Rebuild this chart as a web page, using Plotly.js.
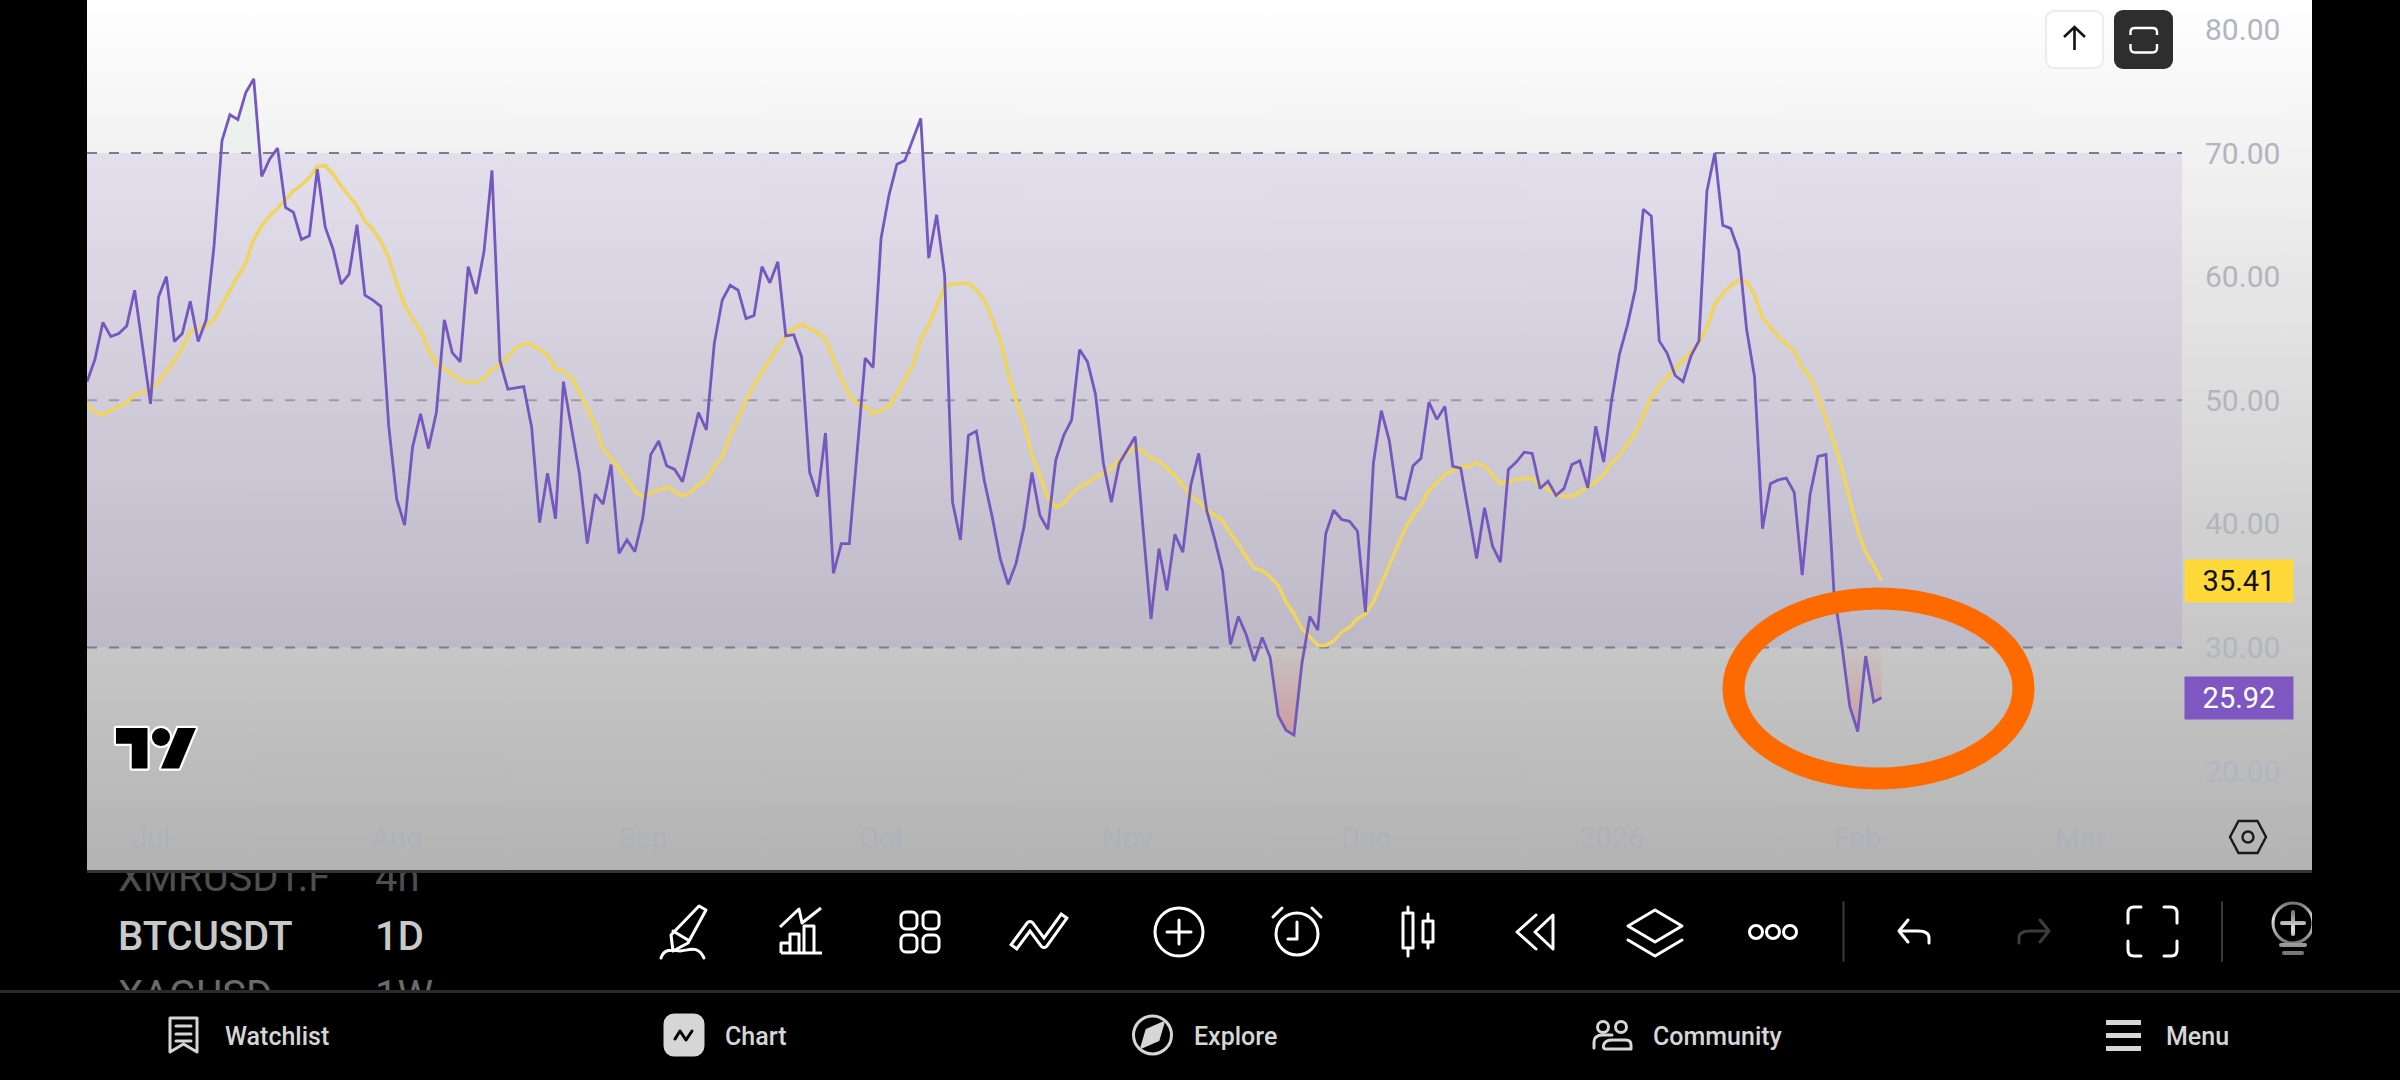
<!DOCTYPE html>
<html><head><meta charset="utf-8">
<script src="https://cdn.plot.ly/plotly-3.0.1.min.js"></script>
<style>
html,body{margin:0;padding:0;background:#000;width:2400px;height:1080px;overflow:hidden}
#bg{position:absolute;left:87px;top:0;width:2225px;height:870px;background:linear-gradient(180deg,#ffffff 0%,#b3b3b3 100%)}
#chart{position:absolute;left:0;top:0;width:2400px;height:1080px}
#chrome{position:absolute;left:0;top:0;pointer-events:none}
</style></head><body>
<div id="bg"></div>
<div id="chart"></div>
<svg id="chrome" width="2400" height="1080" viewBox="0 0 2400 1080" xmlns="http://www.w3.org/2000/svg" font-family="Roboto, sans-serif">
<defs>
<clipPath id="listClip"><rect x="100" y="873" width="400" height="117"/></clipPath>
<clipPath id="bulbClip"><rect x="2260" y="890" width="52" height="80"/></clipPath>
<linearGradient id="bulbGrad" x1="0" y1="0" x2="0" y2="1"><stop offset="0" stop-color="#777"/><stop offset="0.4" stop-color="#ddd"/><stop offset="1" stop-color="#777"/></linearGradient>
</defs>
<rect x="87" y="870" width="2225" height="3" fill="#333"/>
<rect x="0" y="990" width="2400" height="3" fill="#2a2a2a"/>
<!-- top right buttons -->
<rect x="2046" y="11" width="57" height="57" rx="8" fill="#fff" stroke="#ececec" stroke-width="2"/>
<path d="M2074.5 50V27M2064 37L2074.5 27L2085 37" fill="none" stroke="#131313" stroke-width="2.6"/>
<rect x="2114" y="10" width="59" height="59" rx="9" fill="#2e2e2e"/>
<path d="M2130.5 35V32Q2130.5 28 2135 28H2152.5Q2157 28 2157 32V35M2130.5 44V48Q2130.5 52.5 2135 52.5H2152.5Q2157 52.5 2157 48V44" fill="none" stroke="#fff" stroke-width="2.4"/>
<!-- logo -->
<g transform="translate(116,719) scale(2.25)">
<g stroke="#fff" stroke-width="2" stroke-linejoin="round" fill="#fff">
<path d="M14 22H7V11H0V4h14v18zM28 22h-8l7.5-18h8L28 22z"/><circle cx="20" cy="8" r="4"/></g>
<path d="M14 22H7V11H0V4h14v18zM28 22h-8l7.5-18h8L28 22z" fill="#000"/><circle cx="20" cy="8" r="4" fill="#000"/>
</g>
<!-- settings hexagon -->
<path d="M2238.5 821H2257.5L2266 837L2257.5 853H2238.5L2230 837Z" fill="none" stroke="#1a1a1a" stroke-width="2.4"/>
<circle cx="2248" cy="837" r="5.5" fill="none" stroke="#1a1a1a" stroke-width="2.4"/>
<!-- symbol list -->
<g clip-path="url(#listClip)" font-size="40">
<text x="118" y="891" fill="#4e4e4e">XMRUSDT.F</text><text x="375" y="891" fill="#4e4e4e">4h</text>
<text x="118" y="1009" fill="#6a6a6a">XAGUSD</text><text x="375" y="1009" fill="#6a6a6a">1W</text>
</g>
<text x="118" y="950" font-size="40" font-weight="500" fill="#c9c9c9">BTCUSDT</text>
<text x="375" y="950" font-size="40" font-weight="500" fill="#c9c9c9">1D</text>
<!-- toolbar -->
<g fill="none" stroke="#fff" stroke-width="3" stroke-linejoin="round" stroke-linecap="round">
<path d="M699 906L706 910L688 943L673 951L671 935ZM673 931L688 940M661 958C664 948 673 950 680 951C690 950 698 945 704 958"/>
<path d="M780 927L799 909L802 923L821 908" stroke-linecap="butt"/>
<path d="M781 953V943H790V953M790 953V934H799V953M804 953V926H814V953M781 953H822" stroke-linecap="butt"/>
<rect x="901" y="912" width="16" height="17" rx="5"/><rect x="923" y="912" width="16" height="17" rx="5"/><rect x="901" y="935" width="16" height="17" rx="5"/><rect x="923" y="935" width="16" height="17" rx="5"/>
<path d="M1016 944L1030 925L1044 944L1062 919" stroke-width="10" stroke-linecap="square"/>
<path d="M1016 944L1030 925L1044 944L1062 919" stroke="#000" stroke-width="4" stroke-linecap="square"/>
<circle cx="1179" cy="932" r="24"/><path d="M1179 920V944M1167 932H1191"/>
<circle cx="1297" cy="934" r="21"/><path d="M1297 922V939H1288M1273 917L1282 908M1321 917L1312 908"/>
<rect x="1403" y="913" width="10" height="35"/><path d="M1408 907V913M1408 948V956"/>
<rect x="1423" y="921" width="10" height="21"/><path d="M1428 914V921M1428 942V948"/>
<path d="M1553 915L1535 932L1553 949ZM1536 915L1517 932L1536 949"/>
<path d="M1655 910L1682 926L1655 942L1628 926ZM1628 940L1655 956L1682 940"/>
<circle cx="1756" cy="932" r="6.5"/><circle cx="1773" cy="932" r="6.5"/><circle cx="1790" cy="932" r="6.5"/>
<path d="M1929 943V938Q1929 931 1918 931H1900M1908 920L1899 931L1908 942"/>
<path d="M2019 943V938Q2019 931 2030 931H2048M2040 920L2049 931L2040 942" stroke="#3c3c3c"/>
<path d="M2128 923V913Q2128 907 2134 907H2141M2164 907H2171Q2177 907 2177 913V923M2128 941V950Q2128 956 2134 956H2141M2164 956H2171Q2177 956 2177 950V941"/>
<path d="M1843.500 902V961M2222 902V961" stroke="#3a3a3a" stroke-width="2"/>
<g clip-path="url(#bulbClip)" stroke="url(#bulbGrad)">
<circle cx="2293" cy="923" r="20"/><path d="M2293 912V934M2282 923H2304M2281 945H2305M2284 953H2302" stroke-width="4"/>
</g>
</g>
<!-- bottom nav -->
<g font-size="25" font-weight="500" fill="#d6d6d6">
<text x="225" y="1045">Watchlist</text><text x="725" y="1045">Chart</text><text x="1194" y="1045">Explore</text><text x="1653" y="1045">Community</text><text x="2166" y="1045">Menu</text>
</g>
<g fill="none" stroke="#d6d6d6" stroke-width="3" stroke-linejoin="round" stroke-linecap="round">
<path d="M170 1018H197V1052L183.500 1044L170 1052ZM176 1026H191M176 1034H191M176 1041H191"/>
<rect x="665" y="1015" width="38" height="40" rx="9" fill="#d6d6d6"/>
<path d="M675 1039L680 1031L686 1040L692 1031" stroke="#000"/>
<circle cx="1152.500" cy="1035" r="19"/>
<path d="M1163 1023L1158 1040L1142 1047L1147 1030Z" fill="#d6d6d6"/>
<circle cx="1603" cy="1027" r="5.500"/><circle cx="1621" cy="1027" r="5.500"/>
<path d="M1594 1048V1042Q1594 1035 1603 1035H1612M1612 1040H1626Q1631 1040 1631 1045V1049H1606Q1602 1049 1604 1044Q1606 1040 1612 1040Z"/>
</g>
<g fill="#d6d6d6"><rect x="2106" y="1020" width="35" height="5"/><rect x="2106" y="1033" width="35" height="5"/><rect x="2106" y="1046" width="35" height="5"/></g>
</svg>
<script>
// Daily RSI readings, first bar 2025-06-23, last bar 2026-02-04
const startDate = '2025-06-23';
const rsi = [
51.5,53.3,56.3,55.15,55.4,56.0,58.9,54.3,49.7,58.35,60.0,54.75,55.4,58.0,54.75,56.5,62.5,71.0,73.1,72.7,
74.9,76.0,68.1,69.5,70.4,65.6,65.2,63.0,63.3,68.7,64.0,62.2,59.4,60.2,64.2,58.5,58.1,57.6,
47.9,42.0,39.9,46.2,48.9,46.1,49.0,56.5,53.85,53.1,60.8,58.6,62.05,68.6,53.2,50.9,51.0,51.1,47.8,40.1,
44.1,40.4,51.5,47.7,44.1,38.4,42.4,41.6,44.8,37.6,38.7,37.75,40.5,45.6,46.7,44.7,44.4,43.4,
46.3,49.0,47.6,54.6,58.1,59.3,58.9,56.6,56.85,60.8,59.5,61.2,55.2,55.3,53.5,44.2,42.2,47.35,36.0,38.4,
38.4,46.2,53.4,52.65,63.1,66.6,69.1,69.4,71.1,72.8,61.5,65.0,60.15,41.75,38.7,47.15,47.5,43.5,
40.55,37.2,35.1,36.8,39.75,44.15,40.7,39.55,45.15,47.15,48.4,54.1,53.1,50.5,44.9,41.75,44.9,45.95,47.05,39.6,
32.3,38.0,34.6,39.15,37.7,43.1,45.7,41.1,38.8,36.2,30.25,32.5,31.0,28.9,30.8,29.2,24.5,23.3,
22.9,28.7,32.5,31.4,39.2,41.1,40.35,40.2,39.4,32.85,44.9,49.15,46.75,42.2,42.0,44.7,45.3,49.85,48.45,49.5,
44.65,44.5,40.8,37.2,41.3,38.2,36.9,44.4,45.0,45.8,45.7,42.85,43.45,42.3,42.85,44.8,45.1,
42.9,47.9,45.0,50.0,53.75,56.1,59.0,65.45,64.9,54.8,53.8,52.0,51.5,53.6,54.8,66.9,70.0,64.15,63.9,62.1,
55.75,51.9,39.6,43.25,43.55,43.7,42.55,35.85,42.4,45.45,45.6,34.5,30.15,25.2,23.2,29.3,25.6,25.92];
const rsiMa = [
49.65,49.05,48.83,49.19,49.46,49.86,50.46,50.6,50.81,51.49,52.3,53.25,54.2,55.56,55.75,56.02,56.5,57.72,58.94,60.03,
61.11,63.01,64.09,64.91,65.53,66.26,66.94,67.4,68.02,68.89,68.97,68.29,67.34,66.53,65.72,64.5,63.82,62.87,
61.5,59.47,57.71,56.62,55.67,54.04,52.96,52.55,52.09,51.6,51.41,51.47,51.74,52.5,52.82,53.45,54.26,54.59,54.5,54.04,
53.64,52.55,52.33,51.87,50.65,49.43,47.94,46.04,45.36,44.41,43.6,42.65,42.18,42.51,42.73,43.0,42.59,42.24,
42.56,43.18,43.56,44.59,45.45,47.16,48.51,50.0,51.22,52.3,53.25,54.33,55.14,55.82,56.14,55.82,55.47,54.93,53.38,51.76,
50.41,49.73,49.51,48.92,49.19,49.51,50.54,51.62,52.84,54.87,56.09,57.58,59.2,59.42,59.47,59.47,58.93,58.12,
56.56,54.86,52.16,50.0,48.11,45.55,43.93,42.17,41.36,41.63,42.44,42.98,43.31,43.79,44.06,44.47,45.2,45.68,46.22,45.87,
45.28,45.14,44.47,43.93,43.12,42.31,41.77,41.15,40.69,40.28,39.2,38.39,37.31,36.42,36.23,35.7,35.02,33.67,
32.73,31.51,30.84,30.16,30.16,30.51,31.24,31.65,32.32,32.73,33.67,35.16,36.77,38.26,39.61,40.69,41.5,42.71,43.39,44.01,
44.33,44.6,44.66,44.93,44.68,43.93,43.25,43.39,43.58,43.66,43.66,43.17,42.77,42.39,42.23,42.23,42.58,
43.03,43.41,43.96,44.96,45.52,46.45,47.38,48.77,50.26,51.1,51.88,52.5,53.27,53.89,54.67,55.91,57.77,58.64,59.26,59.7,
59.57,58.55,56.69,55.91,55.14,54.52,53.99,52.65,51.88,50.33,48.46,46.6,44.43,41.95,39.46,37.66,36.61,35.41];
const priceTicks = [20,30,40,50,60,70,80];
const monthTicks = ['2025-07-01','2025-08-01','2025-09-01','2025-10-01','2025-11-01','2025-12-01','2026-01-01','2026-02-01','2026-03-01'];
const monthLabels = ['Jul','Aug','Sep','Oct','Nov','Dec','2026','Feb','Mar'];
const upperLevel = 70, middleLevel = 50, lowerLevel = 30;

const DAY = 86400000;
const daily = {x0:startDate, dx:DAY};
const purple = '#7458bd', yellow = '#efd45f';
const overTop = rsi.map(v=>Math.max(v,upperLevel));
const underBot = rsi.map(v=>Math.min(v,lowerLevel));
const traces = [
 {...daily, y:rsi.map(()=>upperLevel), mode:'lines', line:{width:0}, hoverinfo:'skip'},
 {...daily, y:overTop, mode:'lines', line:{width:0}, fill:'tonexty', hoverinfo:'skip',
  fillgradient:{type:'vertical',start:76,stop:upperLevel,colorscale:[[0,'rgba(76,175,80,0.07)'],[1,'rgba(76,175,80,0.03)']]}},
 {...daily, y:rsi.map(()=>lowerLevel), mode:'lines', line:{width:0}, hoverinfo:'skip'},
 {...daily, y:underBot, mode:'lines', line:{width:0}, fill:'tonexty', hoverinfo:'skip',
  fillgradient:{type:'vertical',start:22,stop:lowerLevel,colorscale:[[0,'rgba(242,54,69,0.28)'],[1,'rgba(242,54,69,0.02)']]}},
 {...daily, y:rsiMa, mode:'lines', line:{color:yellow,width:3.6}, name:'RSI MA'},
 {...daily, y:rsi, mode:'lines', line:{color:purple,width:2.8}, name:'RSI'}
];
const W=2400,H=1080,L=87,R=2182,T=0,B=818;
const px=x=>(x-L)/(R-L), py=y=>1-(y-T)/(B-T);
const levelLine=(v,c)=>({type:'line',xref:'paper',yref:'y',x0:0,x1:1,y0:v,y1:v,layer:'below',line:{color:c,width:2,dash:'10px,12px'}});
const lastRsi = rsi[rsi.length-1], lastMa = rsiMa[rsiMa.length-1];
const tag=(v,bg,fg)=>({xref:'paper',yref:'y',x:px(2239),xanchor:'center',yanchor:'middle',y:v,text:v.toFixed(2),showarrow:false,width:104,height:38,borderpad:2,bgcolor:bg,font:{color:fg,size:29,family:'Roboto'},align:'center',valign:'middle'});
const layout = {
 width:W,height:H,margin:{l:L,r:W-R,t:T,b:H-B,pad:0},autosize:false,
 paper_bgcolor:'rgba(0,0,0,0)',plot_bgcolor:'rgba(0,0,0,0)',showlegend:false,hovermode:false,
 font:{family:'Roboto'},
 xaxis:{type:'date',range:['2025-06-23','2026-03-13 20:00'],tickmode:'array',tickvals:monthTicks,ticktext:monthLabels,
  showgrid:false,zeroline:false,showline:false,ticks:'',tickangle:0,tickfont:{size:29,color:'#b0b1bb',family:'Roboto'}},
 yaxis:{side:'right',range:[16.2,82.38],tickmode:'array',tickvals:priceTicks,tickformat:'.2f',
  showgrid:false,zeroline:false,showline:false,ticks:'',ticklabelstandoff:22,tickfont:{size:30,color:'#b2b5be',family:'Roboto'}},
 shapes:[
  {type:'rect',xref:'paper',yref:'y',x0:0,x1:1,y0:lowerLevel,y1:upperLevel,layer:'below',fillcolor:'rgba(126,87,194,0.12)',line:{width:0}},
  levelLine(upperLevel,'#7b7d8a'),levelLine(middleLevel,'rgba(120,123,134,0.6)'),levelLine(lowerLevel,'#7b7d8a'),
  {type:'circle',xref:'paper',yref:'paper',x0:px(1733.5),x1:px(2023.5),y0:py(778.5),y1:py(598.5),layer:'above',line:{color:'#ff6a00',width:22}}
 ],
 annotations:[tag(lastMa,'#ffd83a','#111'),tag(lastRsi,'#7e57c2','#fff')]
};
Plotly.newPlot('chart',traces,layout,{displayModeBar:false,staticPlot:true});
</script>
</body></html>
